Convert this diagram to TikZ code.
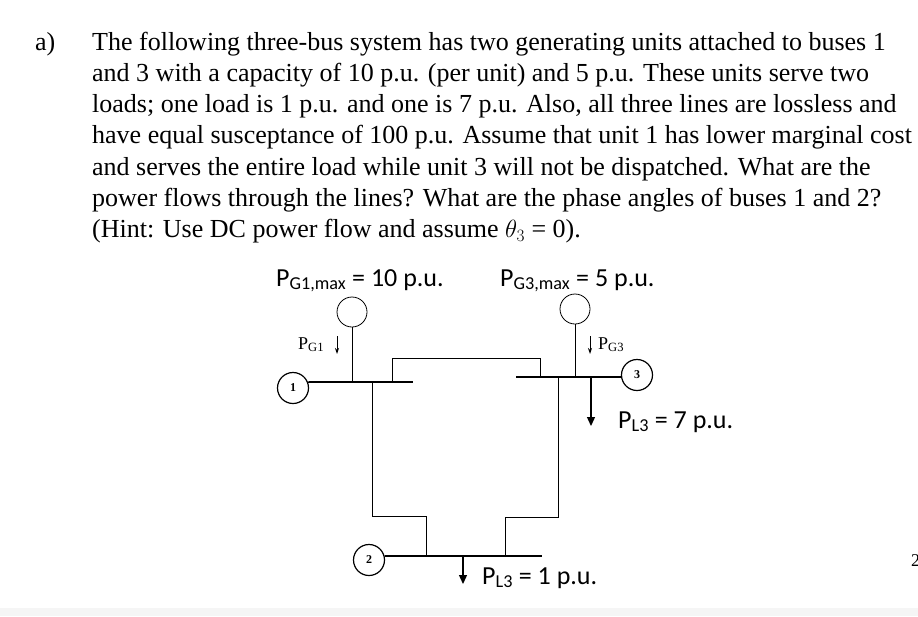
\documentclass[tikz,border=0pt]{standalone}
\usepackage{fontspec}
\usetikzlibrary{arrows.meta}
\setmainfont{Liberation Serif}
\newfontfamily\calfont{Carlito}
\begin{document}
\begin{tikzpicture}[x=1pt,y=-1pt,
  txt/.style={anchor=base west,inner sep=0pt,font=\fontsize{26}{30}\selectfont},
  lbl/.style={anchor=base west,inner sep=0pt,font=\calfont\fontsize{26}{30}\selectfont},
  busno/.style={circle,draw,line width=1.2pt,minimum size=31pt,inner sep=0pt,font=\bfseries\fontsize{12}{13}\selectfont},
  gen/.style={circle,draw,line width=0.8pt,minimum size=30pt,inner sep=0pt},
  bar/.style={line width=2.6pt},
  ln/.style={line width=0.9pt},
  ld/.style={line width=1.3pt,-{Triangle[width=8pt,length=9pt]}},
  sm/.style={line width=0.9pt,-{Stealth[width=4pt,length=6pt]}},
  pg/.style={anchor=base west,inner sep=0pt,font=\fontsize{18}{20}\selectfont}]
\useasboundingbox (0,0) rectangle (918,616);
\fill[black!4] (0,608) rectangle (918,616);
\node[txt] (a) at (35,50) {a)};
\foreach \t [count=\i] in {
 {The following three-bus system has two generating units attached to buses 1},
 {and 3 with a capacity of 10 p.u. (per unit) and 5 p.u. These units serve two},
 {loads; one load is 1 p.u. and one is 7 p.u. Also, all three lines are lossless and},
 {have equal susceptance of 100 p.u. Assume that unit 1 has lower marginal cost},
 {and serves the entire load while unit 3 will not be dispatched. What are the},
 {power flows through the lines? What are the phase angles of buses 1 and 2?},
 {(Hint: Use DC power flow and assume $\theta_3$ = 0).}}
 \node[txt] (t\i) at (92,50+31.3*\i-31.3) {\t};
\node[lbl] (m1) at (276,286) {P\textsubscript{G1,max} = 10 p.u.};
\node[lbl] (m3) at (500,286) {P\textsubscript{G3,max} = 5 p.u.};
% buses
\node[busno] (b1) at (293,388) {1};
\node[busno] (b3) at (637,375) {3};
\node[busno] (b2) at (369,560) {2};
\coordinate (b1l) at (309,382); \coordinate (b1r) at (413,382);
\coordinate (b3l) at (516,377); \coordinate (b3r) at (621,377);
\coordinate (b2l) at (385,556); \coordinate (b2r) at (542,556);
\draw[line width=1.4pt] (b1) -- (b1l); \draw[bar] (b1l) -- (b1r);
\draw[line width=1.4pt] (b3) -- (b3r); \draw[bar] (b3l) -- (b3r);
\draw[line width=1.4pt] (b2) -- (b2l); \draw[bar] (b2l) -- (b2r);
% generators
\node[gen] (g1) at (352,312) {};
\node[gen] (g3) at (575,309) {};
\draw[ln] (g1) -- (352,382);
\draw[ln] (g3) -- (575,377);
\draw[sm] (337,336) -- (337,354);
\draw[sm] (590,336) -- (590,354);
\node[pg] (p1) at (298,349) {P\textsubscript{G1}};
\node[pg] (p3) at (598,349) {P\textsubscript{G3}};
% lines
\draw[ln] (392,382) |- (540,358) -- (540,377);
\draw[ln] (372,382) |- (426,516) -- (426,556);
\draw[ln] (558,377) |- (505,517) -- (505,556);
% loads
\draw[ld] (591,377) -- (591,426);
\draw[ld] (463,556) -- (463,584);
\node[lbl] (l3) at (618,428) {P\textsubscript{L3} = 7 p.u.};
\node[lbl] (l2) at (482,584) {P\textsubscript{L3} = 1 p.u.};
\node[txt,font=\fontsize{18}{20}\selectfont] (cut) at (911,566) {2};
\end{tikzpicture}
\end{document}
